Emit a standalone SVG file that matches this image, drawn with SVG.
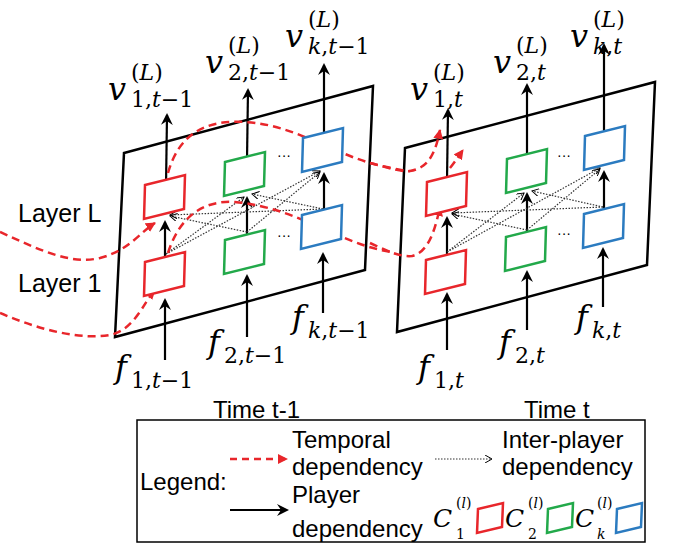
<svg xmlns="http://www.w3.org/2000/svg" width="679" height="554" viewBox="0 0 679 554">
<style>
.pl{fill:none;stroke:#000;stroke-width:2.5}
.r{fill:#fff;stroke:#e8262b;stroke-width:2.5}
.g{fill:#fff;stroke:#22a94a;stroke-width:2.5}
.b{fill:#fff;stroke:#2b7bc0;stroke-width:2.5}
.ar{fill:none;stroke:#000;stroke-width:2.2;marker-end:url(#ah)}
.dt{fill:none;stroke:#333;stroke-width:1.2;stroke-dasharray:1.5 1.5;marker-end:url(#dh)}
.td{fill:none;stroke:#e8262b;stroke-width:2.5;stroke-dasharray:8 5;marker-end:url(#rh)}
.td0{fill:none;stroke:#e8262b;stroke-width:2.5;stroke-dasharray:8 5}
.m{font-family:"DejaVu Serif",serif;font-style:italic;font-size:32px;fill:#000}
.s{font-family:"DejaVu Serif",serif;font-size:22px;fill:#000}
.ls{font-family:"DejaVu Serif",serif;font-size:14px;fill:#000}
.i{font-style:italic}
.t{font-family:"Liberation Sans",Arial,sans-serif;font-size:24px;fill:#000}
.dots{font-family:"Liberation Sans",sans-serif;font-size:14px;fill:#000}
</style>
<defs>
<marker id="ah" markerWidth="14" markerHeight="14" refX="10" refY="6" orient="auto" markerUnits="userSpaceOnUse"><path d="M0,0 L12,6 L0,12 L4,6 z" fill="#000"/></marker>
<marker id="dh" markerWidth="8" markerHeight="8" refX="7" refY="4" orient="auto" markerUnits="userSpaceOnUse"><path d="M0,0 L7,4 L0,8" fill="none" stroke="#000" stroke-width="1"/></marker>
<marker id="rh" markerWidth="12" markerHeight="12" refX="9" refY="5" orient="auto" markerUnits="userSpaceOnUse"><path d="M0,0 L10,5 L0,10 z" fill="#e8262b"/></marker>
<path id="bx" d="M0,0 l40,-10 l-1,34 l-40,10 z"/>
</defs>

<g id="panel-t-1">
<path class="pl" d="M124,153 L373,86 L365,270 L115,337 z"/>
</g>
<g id="panel-t">
<path class="pl" d="M405,148 L655,82 L647,265 L397,332 z"/>
</g>

<g id="connectors">
<path class="ar" d="M165,360 L165,300"/>
<path class="ar" d="M165,262 L165,222"/>
<path class="ar" d="M166,186 L167,115"/>
<path class="ar" d="M247,337 L247,276"/>
<path class="ar" d="M247,238 L247,198"/>
<path class="ar" d="M247,160 L248,90"/>
<path class="ar" d="M323,313 L323,254"/>
<path class="ar" d="M324,213 L324,174"/>
<path class="ar" d="M324,136 L324,65"/>
<path class="ar" d="M447,350 L447,294"/>
<path class="ar" d="M447,258 L447,218"/>
<path class="ar" d="M447,180 L448,110"/>
<path class="ar" d="M527,330 L527,272"/>
<path class="ar" d="M527,234 L527,194"/>
<path class="ar" d="M527,156 L527,85"/>
<path class="ar" d="M603,307 L603,249"/>
<path class="ar" d="M604,212 L604,172"/>
<path class="ar" d="M604,133 L604,45"/>
<path class="dt" d="M166,254 L244,197"/>
<path class="dt" d="M166,254 L320,171"/>
<path class="dt" d="M247,232 L170,216"/>
<path class="dt" d="M247,232 L320,172"/>
<path class="dt" d="M323,209 L170,215"/>
<path class="dt" d="M323,209 L252,194"/>
<path class="dt" d="M447,252 L524,193"/>
<path class="dt" d="M447,252 L600,168"/>
<path class="dt" d="M527,230 L452,214"/>
<path class="dt" d="M527,230 L600,169"/>
<path class="dt" d="M603,207 L452,213"/>
<path class="dt" d="M603,207 L532,191"/>
<path class="td" d="M0,232 C40,250 70,265 100,258 C130,250 140,232 155,223"/>
<path class="td" d="M0,313 C40,330 80,340 110,335 C135,330 145,300 155,290"/>
<path class="td0" d="M168,173 C180,130 210,120 245,122 C300,125 340,160 392,168 C400,170 406,171 410,171"/>
<path class="td" d="M370,163 C390,168 400,172 410,171 C430,168 436,150 440,130"/>
<path class="td0" d="M168,253 C180,215 205,200 235,202 C300,208 340,245 392,252"/>
<path class="td" d="M370,243 C390,252 400,257 412,256 C430,252 436,225 440,207"/>
<path class="td" d="M450,168 C455,162 458,157 463,150"/>
</g>

<g id="nodes-t-1">
<use href="#bx" x="145" y="185" class="r"/>
<use href="#bx" x="145" y="262" class="r"/>
<use href="#bx" x="225" y="162" class="g"/>
<use href="#bx" x="225" y="240" class="g"/>
<use href="#bx" x="303" y="138" class="b"/>
<use href="#bx" x="302" y="215" class="b"/>
<text class="dots" x="277" y="160">···</text>
<text class="dots" x="277" y="240">···</text>
</g>
<g id="nodes-t">
<use href="#bx" x="427" y="182" class="r"/>
<use href="#bx" x="426" y="260" class="r"/>
<use href="#bx" x="507" y="159" class="g"/>
<use href="#bx" x="506" y="237" class="g"/>
<use href="#bx" x="585" y="136" class="b"/>
<use href="#bx" x="584" y="214" class="b"/>
<text class="dots" x="557" y="160">···</text>
<text class="dots" x="557" y="238">···</text>
</g>

<g id="labels">
<text class="m" x="108" y="100">v</text><text class="s" x="131" y="80">(<tspan class="i">L</tspan>)</text><text class="s" x="131" y="107">1,<tspan class="i">t</tspan>−1</text>
<text class="m" x="205" y="73">v</text><text class="s" x="228" y="53">(<tspan class="i">L</tspan>)</text><text class="s" x="228" y="80">2,<tspan class="i">t</tspan>−1</text>
<text class="m" x="285" y="47">v</text><text class="s" x="308" y="27">(<tspan class="i">L</tspan>)</text><text class="s" x="308" y="54"><tspan class="i">k</tspan>,<tspan class="i">t</tspan>−1</text>
<text class="m" x="410" y="100">v</text><text class="s" x="433" y="80">(<tspan class="i">L</tspan>)</text><text class="s" x="433" y="107">1,<tspan class="i">t</tspan></text>
<text class="m" x="493" y="73">v</text><text class="s" x="516" y="53">(<tspan class="i">L</tspan>)</text><text class="s" x="516" y="80">2,<tspan class="i">t</tspan></text>
<text class="m" x="570" y="47">v</text><text class="s" x="593" y="27">(<tspan class="i">L</tspan>)</text><text class="s" x="593" y="54"><tspan class="i">k</tspan>,<tspan class="i">t</tspan></text>
<text class="m" x="115" y="378">f</text><text class="s" x="131" y="388">1,<tspan class="i">t</tspan>−1</text>
<text class="m" x="208" y="353">f</text><text class="s" x="224" y="363">2,<tspan class="i">t</tspan>−1</text>
<text class="m" x="292" y="328">f</text><text class="s" x="308" y="338"><tspan class="i">k</tspan>,<tspan class="i">t</tspan>−1</text>
<text class="m" x="418" y="378">f</text><text class="s" x="434" y="388">1,<tspan class="i">t</tspan></text>
<text class="m" x="499" y="353">f</text><text class="s" x="515" y="363">2,<tspan class="i">t</tspan></text>
<text class="m" x="576" y="328">f</text><text class="s" x="592" y="338"><tspan class="i">k</tspan>,<tspan class="i">t</tspan></text>
<text class="t" x="18" y="222" style="font-size:25px">Layer L</text>
<text class="t" x="18" y="292" style="font-size:25px">Layer 1</text>
<text class="t" x="213" y="418">Time t-1</text>
<text class="t" x="524" y="418">Time t</text>
</g>

<g id="legend">
<rect x="137" y="420" width="508" height="122" fill="#fff" stroke="#000" stroke-width="1.5"/>
<text class="t" x="140" y="490">Legend:</text>
<path class="td" d="M230,459 L287,459" style="stroke-dasharray:7 5"/>
<text class="t" x="292" y="448">Temporal</text>
<text class="t" x="292" y="475">dependency</text>
<path class="dt" d="M435,459 L492,459"/>
<text class="t" x="502" y="448">Inter-player</text>
<text class="t" x="502" y="475">dependency</text>
<path class="ar" d="M230,510 L287,510" style="stroke-width:1.8"/>
<text class="t" x="292" y="503">Player</text>
<text class="t" x="292" y="537">dependency</text>
<text class="m" x="433" y="527" style="font-size:25px">C</text><text class="ls" x="456" y="508">(<tspan class="i">l</tspan>)</text><text class="ls" x="456" y="539">1</text>
<path class="r" d="M478,509 L503,503 L502,527 L477,533 z"/>
<text class="m" x="505" y="527" style="font-size:25px">C</text><text class="ls" x="528" y="508">(<tspan class="i">l</tspan>)</text><text class="ls" x="528" y="539">2</text>
<path class="g" d="M548,509 L573,503 L572,527 L547,533 z"/>
<text class="m" x="575" y="527" style="font-size:25px">C</text><text class="ls" x="597" y="508">(<tspan class="i">l</tspan>)</text><text class="ls i" x="597" y="539">k</text>
<path class="b" d="M617,509 L642,503 L641,527 L616,533 z"/>
</g>
</svg>
